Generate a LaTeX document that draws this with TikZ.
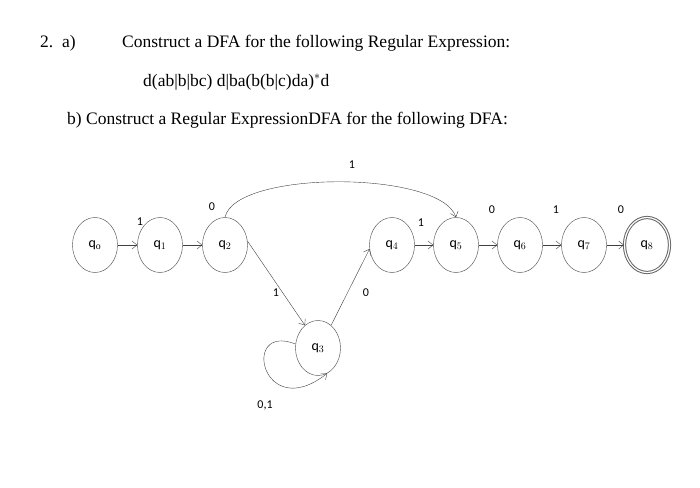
\documentclass[tikz,border=0pt]{standalone}
\usepackage{fontspec}
\setmainfont{Liberation Serif}
\newfontfamily\lblfont{Carlito}
\usetikzlibrary{arrows.meta,shapes.geometric}
\begin{document}
\begin{tikzpicture}[x=1pt,y=-1pt,
  st/.style={draw=black!75,ellipse,minimum width=45pt,minimum height=55pt,inner sep=0pt,font=\lblfont\fontsize{14}{14}\selectfont},
  fin/.style={st,double=white,double distance=1.2pt,draw=black!60,line width=1pt},
  ed/.style={draw=black!75,-{Straight Barb[length=5pt,width=8pt]}},
  lb/.style={font=\lblfont\fontsize{12}{12}\selectfont},
  tx/.style={anchor=base west,inner sep=0pt,font=\fontsize{17.5}{19}\selectfont}]
\useasboundingbox (0,0) rectangle (700,487);
\node[tx] (t1) at (40,48) {2.\ \ a)};
\node[tx] (t2) at (122,48) {Construct a DFA for the following Regular Expression:};
\node[tx] (t3) at (143,86) {d(ab|b|bc) d|ba(b(b|c)da)$^{*}$d};
\node[tx] (t4) at (67,124) {b) Construct a Regular ExpressionDFA for the following DFA:};
\node[st] (q0) at (95,245) {q$_\mathrm{o}$};
\node[st] (q1) at (160,245) {q$_1$};
\node[st] (q2) at (225,245) {q$_2$};
\node[st] (q3) at (318,348) {q$_3$};
\node[st] (q4) at (392,245) {q$_4$};
\node[st] (q5) at (456,245) {q$_5$};
\node[st] (q6) at (520,245) {q$_6$};
\node[st] (q7) at (584,245) {q$_7$};
\node[fin] (q8) at (647,245) {q$_8$};
\draw[ed] (q0) -- (q1);
\draw[ed] (q1) -- (q2);
\draw[ed] (q4) -- (q5);
\draw[ed] (q5) -- (q6);
\draw[ed] (q6) -- (q7);
\draw[ed] (q7) -- (q8);
\draw[ed] (q2.10) -- (q3.120);
\draw[ed] (q3.60) -- (q4.190);
\draw[ed] (q2.north) .. controls (235,170) and (440,170) .. (q5.north);
\draw[ed] (q3.170) .. controls (240,322) and (262,425) .. (q3.290);
\node[lb] (l01) at (140,222) {1};
\node[lb] (l12) at (212,207) {0};
\node[lb] (l23) at (276,293) {1};
\node[lb] (l34) at (366,293) {0};
\node[lb] (l45) at (421,223) {1};
\node[lb] (l56) at (492,210) {0};
\node[lb] (l67) at (556,210) {1};
\node[lb] (l78) at (621,210) {0};
\node[lb] (l25) at (352,165) {1};
\node[lb] (l33) at (265,405) {0,1};
\end{tikzpicture}
\end{document}
